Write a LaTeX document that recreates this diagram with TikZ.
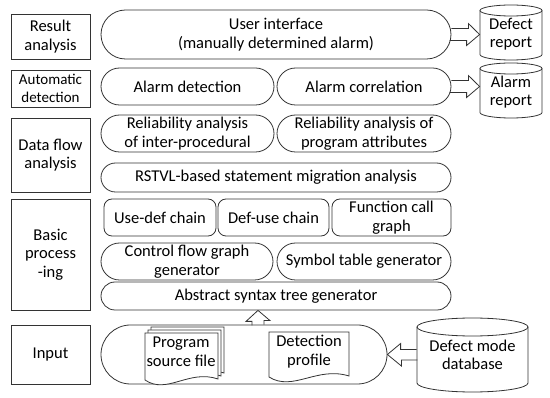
\documentclass[tikz,border=0pt]{standalone}
\usepackage{fontspec}
\setmainfont{Carlito}
\usetikzlibrary{shapes.misc,calc}
\tikzset{
  layer/.style={draw, rectangle, inner sep=0pt, minimum width=79pt, align=center},
  stage/.style={draw, rounded rectangle, inner sep=0pt, align=center},
  part/.style={draw, rounded corners=8pt, inner sep=0pt, align=center},
  store/.style={inner sep=0pt, align=center},
  hollow/.style={draw, line join=miter},
}
\newcommand\docpage[4]{%
  \draw[fill=white] (#1,#2) -- (#3,#2) -- (#3,{#4+6}) .. controls ({#1+0.6*(#3-#1)},{#4+16}) and ({#1+0.3*(#3-#1)},{#4-10}) .. (#1,{#4+5}) -- cycle;}
\newcommand\drum[5]{%
  \draw (#1,{#2-#5}) -- (#1,{#4+#5}) arc[start angle=180, end angle=360, x radius={(#3-#1)/2}, y radius=#5] -- (#3,{#2-#5});
  \draw ({(#1+#3)/2},{#2-#5}) ellipse[x radius={(#3-#1)/2}, y radius=#5];}
\begin{document}
\begin{tikzpicture}[x=1pt, y=1pt, line width=0.8pt, draw=black!80,
    every node/.style={font=\fontsize{16.5}{18.5}\selectfont}]
    \useasboundingbox (0,0) rectangle (550,-398);
    \node[layer, minimum height=45pt] (res) at (50.5,-36.5) {Result\\analysis};
    \node[layer, minimum height=37pt, font=\fontsize{15}{18.5}\selectfont] (auto) at (50.5,-88.5) {Automatic\\detection};
    \node[layer, minimum height=74pt] (dfa) at (50.5,-155) {Data flow\\analysis};
    \node[layer, minimum height=111pt] (basic) at (50.5,-254.5) {Basic\\process\\-ing};
    \node[layer, minimum height=59pt] (input) at (50.5,-354.5) {Input};
    \node[stage, minimum width=350pt, minimum height=49pt] (ui) at (276,-34.5) {User interface\\(manually determined alarm)};
    \node[stage, minimum width=173pt, minimum height=37pt] (ad) at (187.5,-86.5) {Alarm detection};
    \node[stage, minimum width=174pt, minimum height=37pt] (ac) at (364,-86.5) {Alarm correlation};
    \node[stage, minimum width=173pt, minimum height=37pt] (rip) at (187.5,-133.5) {Reliability analysis\\of inter-procedural};
    \node[stage, minimum width=174pt, minimum height=37pt] (rpa) at (364,-133.5) {Reliability analysis of\\program attributes};
    \node[stage, minimum width=350pt, minimum height=29pt] (rstvl) at (276,-177.5) {RSTVL-based statement migration analysis};
    \node[part, minimum width=112pt, minimum height=37pt] (udc) at (160,-217.5) {Use-def chain};
    \node[part, minimum width=111pt, minimum height=37pt] (duc) at (273.5,-217.5) {Def-use chain};
    \node[part, minimum width=119pt, minimum height=37pt] (fcg) at (391.5,-217.5) {Function call\\graph};
    \node[stage, minimum width=172pt, minimum height=37pt] (cfg) at (187,-261.5) {Control flow graph\\generator};
    \node[stage, minimum width=174pt, minimum height=37pt] (stg) at (364,-261.5) {Symbol table generator};
    \node[stage, minimum width=350pt, minimum height=28pt] (ast) at (276,-296) {Abstract syntax tree generator};
    \node[stage, minimum width=286pt, minimum height=59pt] (inp) at (244,-354.5) {};
    \docpage{151}{-327}{224}{-379}
    \docpage{148}{-330}{221}{-382}
    \docpage{145}{-333}{218}{-385}
    \node[store] (psf) at (181,-352) {Program\\source file};
    \docpage{269}{-332}{349}{-382}
    \node[store] (dp) at (309,-351.5) {Detection\\profile};
    \drum{480}{-5}{542}{-60}{5.5}
    \node[store, minimum width=62pt, minimum height=55pt] (dr) at (511,-34) {Defect\\report};
    \drum{480}{-63}{542}{-118}{5.5}
    \node[store, minimum width=62pt, minimum height=55pt] (ar) at (511,-92) {Alarm\\report};
    \drum{417}{-318}{528}{-392}{9}
    \node[store, minimum width=111pt, minimum height=74pt] (dmd) at (472.5,-355) {Defect mode\\database};
    \draw[hollow] ($(ui.east)+(0,6)$) -- ++(17,0) -- ++(0,5) -- (ui.east -| dr.west) -- ++(-13,-11) -- ++(0,5) -- ++(-17,0);
    \draw[hollow] ($(ac.east)+(0,6)$) -- ++(17,0) -- ++(0,5) -- (ac.east -| ar.west) -- ++(-13,-11) -- ++(0,5) -- ++(-17,0);
    \draw[hollow] ($(inp.north)+(20,0)$) -- ++(0,4) -- ++(6,0) -- ($(inp.north |- ast.south)+(14,0)$) -- ++(-12,-11) -- ++(6,0) -- ++(0,-4);
    \draw[hollow] ($(dmd.west)+(0,5.5)$) -- ++(-16,0) -- ++(0,6) -- (inp.east) -- ++(14,-11.5) -- ++(0,6) -- ++(16,0);
\end{tikzpicture}
\end{document}
